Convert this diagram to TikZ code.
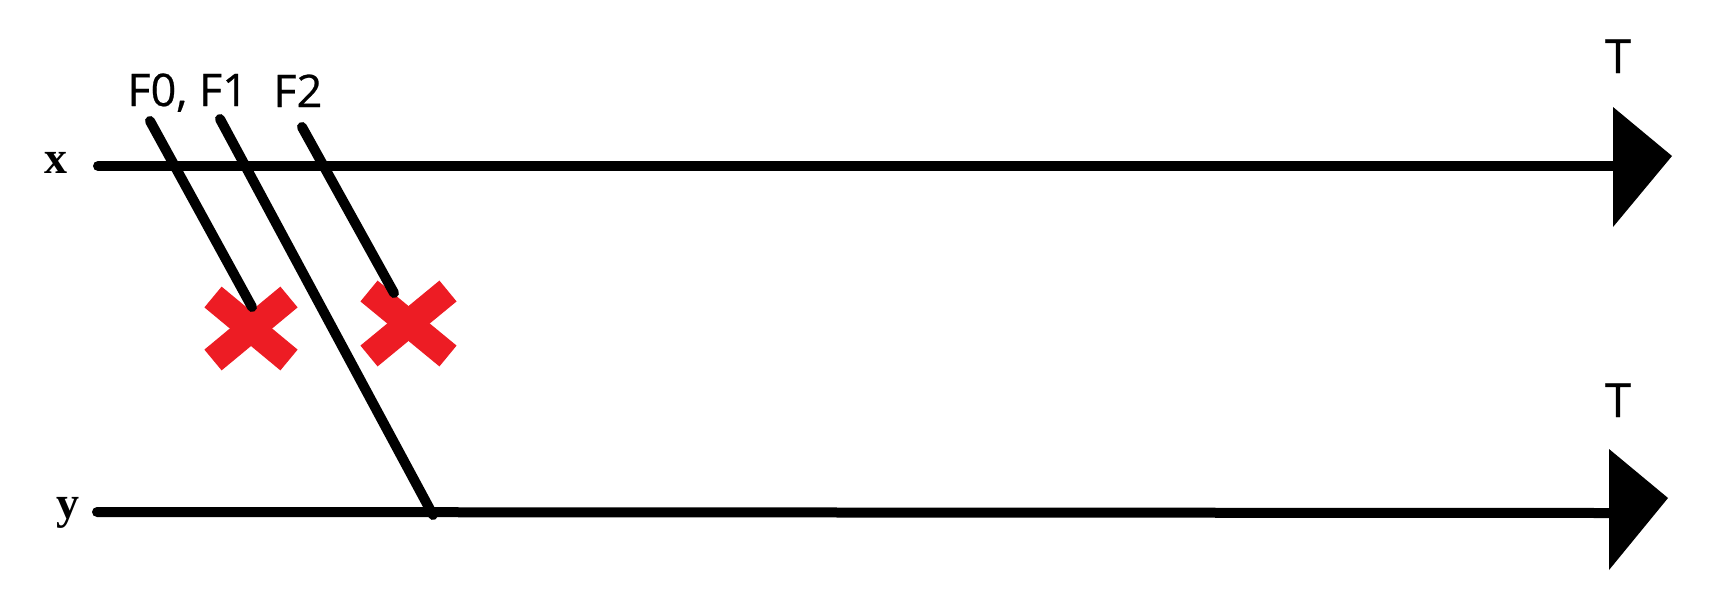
\documentclass[tikz,border=0pt]{standalone}
\usepackage{fontspec}
\setmainfont{Liberation Serif}
\newfontfamily\lblfont[FakeBold=0.5]{Open Sans}
\definecolor{xred}{HTML}{ED1C24}
\begin{document}
\begin{tikzpicture}[x=0.5pt,y=-0.5pt,
  axisline/.style={line width=5pt, line cap=round},
  sigline/.style={line width=5pt, line cap=round},
  headtri/.style={fill=black},
  crossarm/.style={draw=xred, line width=13.5pt},
  flabel/.style={font=\lblfont\fontsize{22.5}{22.5}\selectfont, inner sep=0pt, anchor=base west},
  tlabel/.style={font=\lblfont\fontsize{23.5}{23.5}\selectfont, inner sep=0pt, anchor=base},
  vlabel/.style={font=\bfseries\fontsize{23}{23}\selectfont, inner sep=0pt, anchor=base}]
\useasboundingbox (0,0) rectangle (1732,600);
% axes
\coordinate (xs) at (98,166);
\coordinate (xe) at (1615,166);
\coordinate (ys) at (97,512);
\coordinate (ye) at (1611,513);
\draw[axisline] (xs) -- (xe);
\draw[axisline] (ys) -- (ye);
\fill[headtri] (1613,107) -- (1672,156) -- (1613,227) -- cycle;
\fill[headtri] (1609,449) -- (1668,498) -- (1609,570) -- cycle;
% crosses
\coordinate (c1a) at (213,297); \coordinate (c1b) at (289,360);
\coordinate (c1c) at (289,297); \coordinate (c1d) at (213,360);
\coordinate (c2a) at (369,291); \coordinate (c2b) at (448,356);
\coordinate (c2c) at (448,291); \coordinate (c2d) at (369,356);
\draw[crossarm] (c1a) -- (c1b);
\draw[crossarm] (c1c) -- (c1d);
\draw[crossarm] (c2a) -- (c2b);
\draw[crossarm] (c2c) -- (c2d);
% signals
\coordinate (f0s) at (150,121); \coordinate (f0e) at (252,307);
\coordinate (f1s) at (220,119); \coordinate (f1e) at (433,515);
\coordinate (f2s) at (302,127); \coordinate (f2e) at (394,293);
\draw[sigline] (f0s) -- (f0e);
\draw[sigline] (f1s) -- (f1e);
\draw[sigline] (f2s) -- (f2e);
% labels
\node[flabel] (lblF01) at (127,106) {F0, F1};
\node[flabel] (lblF2) at (273,107) {F2};
\node[tlabel] (lblT1) at (1618,73) {T};
\node[tlabel] (lblT2) at (1618,417) {T};
\node[vlabel] (lblx) at (56,173) {x};
\node[vlabel] (lbly) at (68,518) {y};
\end{tikzpicture}
\end{document}
